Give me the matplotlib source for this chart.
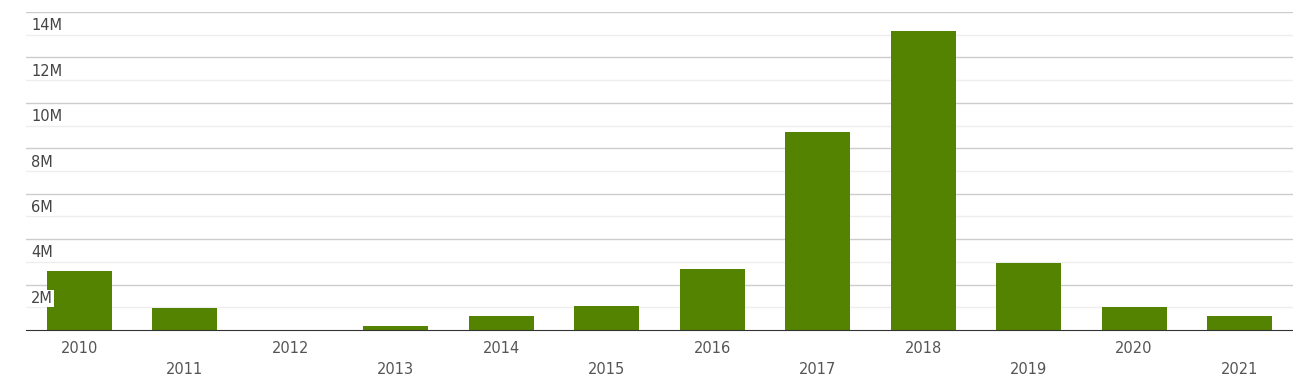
import numpy as np
import matplotlib
matplotlib.use('Agg')
import matplotlib.pyplot as plt

# ------------------------------------------------------------------
# Data
# ------------------------------------------------------------------
years = ['2010', '2011', '2012', '2013', '2014', '2015',
         '2016', '2017', '2018', '2019', '2020', '2021']
values = [2.6e6, 0.97e6, 0.0, 0.18e6, 0.62e6, 1.06e6,
          2.69e6, 8.72e6, 13.17e6, 2.95e6, 1.01e6, 0.62e6]
y_ticks = [2e6, 4e6, 6e6, 8e6, 10e6, 12e6, 14e6]
y_labels = ['2M', '4M', '6M', '8M', '10M', '12M', '14M']

bar_color = '#548302'
text_color = '#444444'

fig = plt.figure(figsize=(12.93, 3.84), dpi=100)
ax = fig.add_axes([26 / 1293, 1 - 330 / 384, 1 - 26 / 1293, (330 - 12) / 384])

x = np.arange(len(years))
ax.bar(x, values, width=0.616, color=bar_color, zorder=2)

ax.set_xlim(-0.507, len(years) - 1 + 0.507)
ax.set_ylim(0, 14e6)

# gridlines: major every 2M, minor every 1M
for v in y_ticks:
    ax.axhline(v, color='#cccccc', lw=1, zorder=1)
for v in np.arange(1e6, 14e6, 2e6):
    ax.axhline(v, color='#eeeeee', lw=1, zorder=1)

# y labels sit just below their gridline, inside the plot
for v, lab in zip(y_ticks, y_labels):
    ax.annotate(lab, xy=(0, v), xycoords=('axes fraction', 'data'),
                xytext=(3.8, -4.5), textcoords='offset points',
                ha='left', va='top', fontsize=10.5, color=text_color,
                bbox=dict(boxstyle='square,pad=0.05', fc='white', ec='none'),
                zorder=3)

# staggered x labels
for i, yr in enumerate(years):
    off = -13.5 if i % 2 == 0 else -28.5
    ax.annotate(yr, xy=(i, 0), xycoords='data', xytext=(0, off),
                textcoords='offset points', ha='center', va='center',
                fontsize=10.5, color='#555555', annotation_clip=False)

ax.set_xticks([])
ax.set_yticks([])
for s in ['top', 'right', 'left']:
    ax.spines[s].set_visible(False)
ax.spines['bottom'].set_color('#333333')
ax.spines['bottom'].set_zorder(4)

fig.savefig('out.png', dpi=100)
